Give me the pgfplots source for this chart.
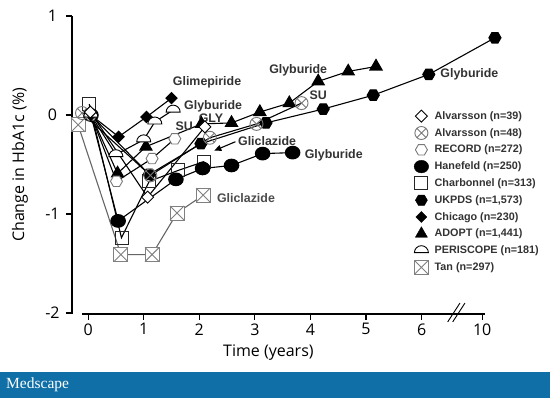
\documentclass[border=0pt]{standalone}
\usepackage{pgfplots}
\pgfplotsset{compat=1.18}
\usepackage{fontspec}
\setmainfont{Liberation Sans}
\newfontfamily\axfont{Open Sans}
\newfontfamily\medserif{Liberation Serif}
\usetikzlibrary{plotmarks,arrows.meta}
\definecolor{medblue}{RGB}{15,111,166}
\definecolor{tangray}{RGB}{128,128,128}
\definecolor{lgray}{RGB}{120,120,120}

\pgfdeclareplotmark{hexa}{%
  \pgfpathmoveto{\pgfqpoint{\pgfplotmarksize}{0pt}}%
  \pgfpathlineto{\pgfqpoint{0.5\pgfplotmarksize}{0.866\pgfplotmarksize}}%
  \pgfpathlineto{\pgfqpoint{-0.5\pgfplotmarksize}{0.866\pgfplotmarksize}}%
  \pgfpathlineto{\pgfqpoint{-\pgfplotmarksize}{0pt}}%
  \pgfpathlineto{\pgfqpoint{-0.5\pgfplotmarksize}{-0.866\pgfplotmarksize}}%
  \pgfpathlineto{\pgfqpoint{0.5\pgfplotmarksize}{-0.866\pgfplotmarksize}}%
  \pgfpathclose\pgfusepathqfillstroke}
\pgfdeclareplotmark{ell}{%
  \pgfpathellipse{\pgfpointorigin}{\pgfqpoint{1.15\pgfplotmarksize}{0pt}}{\pgfqpoint{0pt}{\pgfplotmarksize}}%
  \pgfusepathqfillstroke}
\pgfdeclareplotmark{semi}{%
  \pgfpathmoveto{\pgfqpoint{-\pgfplotmarksize}{-0.3\pgfplotmarksize}}%
  \pgfpatharc{180}{0}{\pgfplotmarksize}%
  \pgfpathclose\pgfusepathqfillstroke}
\pgfdeclareplotmark{sdiam}{%
  \pgfpathmoveto{\pgfqpoint{0pt}{\pgfplotmarksize}}%
  \pgfpathlineto{\pgfqpoint{\pgfplotmarksize}{0pt}}%
  \pgfpathlineto{\pgfqpoint{0pt}{-\pgfplotmarksize}}%
  \pgfpathlineto{\pgfqpoint{-\pgfplotmarksize}{0pt}}%
  \pgfpathclose\pgfusepathqfillstroke}
\pgfdeclareplotmark{boxx}{%
  \pgfpathrectangle{\pgfqpoint{-\pgfplotmarksize}{-\pgfplotmarksize}}{\pgfqpoint{2\pgfplotmarksize}{2\pgfplotmarksize}}%
  \pgfusepathqfillstroke
  \pgfpathmoveto{\pgfqpoint{-\pgfplotmarksize}{-\pgfplotmarksize}}\pgfpathlineto{\pgfqpoint{\pgfplotmarksize}{\pgfplotmarksize}}%
  \pgfpathmoveto{\pgfqpoint{-\pgfplotmarksize}{\pgfplotmarksize}}\pgfpathlineto{\pgfqpoint{\pgfplotmarksize}{-\pgfplotmarksize}}%
  \pgfusepathqstroke}

\pgfplotsset{
  sA39/.style={mark=sdiam, mark size=6pt, mark options={solid, fill=white, draw=black, line width=0.9pt}},
  sA48/.style={mark=otimes, mark size=6.5pt, mark options={solid, fill=white, draw=lgray, line width=0.9pt}},
  sREC/.style={mark=hexa, mark size=6pt, mark options={solid, fill=white, draw=lgray, line width=0.9pt}},
  sHAN/.style={mark=ell, mark size=6.3pt, mark options={solid, fill=black, draw=black}},
  sCHA/.style={mark=square, mark size=6.5pt, mark options={solid, fill=white, draw=black!85, line width=0.9pt}},
  sUKP/.style={mark=hexa, mark size=6pt, mark options={solid, fill=black, draw=black}},
  sCHI/.style={mark=sdiam, mark size=5.5pt, mark options={solid, fill=black, draw=black}},
  sADO/.style={mark=triangle*, mark size=7pt, mark options={solid, fill=black, draw=black}},
  sPER/.style={mark=semi, mark size=7pt, mark options={solid, fill=white, draw=black, line width=0.9pt}},
  sTAN/.style={mark=boxx, mark size=7pt, mark options={solid, fill=white, draw=tangray, line width=0.9pt}},
  ser/.style={forget plot, black, line width=1.1pt},
}

\begin{document}
\begin{tikzpicture}
\path[use as bounding box] (0pt,0pt) rectangle (550pt,398pt);
\fill[white] (0pt,0pt) rectangle (550pt,398pt);
\fill[medblue] (0pt,0pt) rectangle (550pt,26pt);
\node[anchor=west, text=white, inner sep=0pt, font=\medserif\fontsize{15.5}{15.5}\selectfont] at (6pt,13.5pt) {Medscape};
\begin{axis}[
  at={(72pt,84pt)}, anchor=south west,
  scale only axis, width=413.5pt, height=298pt,
  xmin=-0.29, xmax=7.15, ymin=-2.01, ymax=1,
  axis x line*=bottom, axis y line*=left,
  x axis line style={draw=none},
  y axis line style={line width=1.1pt},
  tick align=outside, major tick length=6pt,
  tick style={black, line width=1.1pt},
  xtick={0,1,2,3,4,5,6,7.09}, xticklabels={0,1,2,3,4,5,6,10},
  ytick={-2,-1,0,1}, yticklabels={-2,-1,0,1},
  ticklabel style={font=\axfont\fontsize{16}{16}\selectfont},
  yticklabel style={text width=20pt, align=center},
  xlabel={Time (years)}, ylabel={Change in HbA1c (\%)},
  label style={font=\axfont\fontsize{16}{16}\selectfont},
  xlabel style={at={(axis description cs:0.475,-0.131)}, anchor=center},
  ylabel style={at={(axis description cs:-0.126,0.5)}, anchor=center, rotate=0},
  clip=false,
  legend style={draw=none, fill=none, at={(0.827,0.6926)}, anchor=north west,
    inner sep=0pt, row sep=0pt, column sep=5pt,
    font=\bfseries\fontsize{10.8}{10.8}\selectfont, text=black!80,
    nodes={minimum height=16.8pt, inner sep=1pt}},
  legend cell align=left,
]
% connecting lines + markers
\addplot[ser, color=tangray!80!black, sTAN] coordinates {(-0.18,-0.1) (0.59,-1.41) (1.15,-1.41) (1.6,-0.99) (2.07,-0.81)};
\addplot[ser, sCHA] coordinates {(0.02,0.11) (0.6,-1.24) (1.1,-0.67) (1.62,-0.56) (2.09,-0.47)};
\addplot[ser, sUKP] coordinates {(0.05,0) (1.1,-0.6) (2.03,-0.29) (3.2,-0.08) (4.23,0.06) (5.13,0.2) (6.13,0.41) (7.32,0.78)};
\addplot[ser, sHAN] coordinates {(0.05,0) (0.54,-1.07) (1.58,-0.65) (2.06,-0.54) (2.58,-0.51) (3.14,-0.39) (3.68,-0.38)};
\addplot[ser, sADO] coordinates {(0.05,0) (0.53,-0.59) (1.04,-0.32) (2.04,-0.09) (2.58,-0.08) (3.09,0.03) (3.62,0.12) (4.14,0.34) (4.68,0.44) (5.18,0.49)};
\addplot[ser, sREC] coordinates {(0.05,0) (0.51,-0.67) (1.15,-0.44) (1.56,-0.24)};
\addplot[ser, sCHI] coordinates {(0.05,0) (0.55,-0.22) (1.05,-0.02) (1.5,0.17)};
\addplot[ser, sPER] coordinates {(0.05,0) (0.5,-0.4) (1.0,-0.25) (1.2,-0.07) (1.53,0.05)};
\addplot[ser, sA48] coordinates {(-0.11,0.02) (1.12,-0.61) (2.19,-0.23) (3.03,-0.09) (3.84,0.12)};
\addplot[ser, sA39] coordinates {(0.04,0.03) (1.07,-0.83) (2.1,-0.12)};

% axis line and break
\draw[black, line width=1.1pt] (axis cs:-0.11,-2.01) -- (axis cs:7.14,-2.01);
\draw[black, line width=0.9pt] (axis cs:6.47,-2.09) -- (axis cs:6.69,-1.90);
\draw[black, line width=0.9pt] (axis cs:6.56,-2.09) -- (axis cs:6.78,-1.90);

% annotations
\begin{scope}[every node/.style={font=\bfseries\fontsize{12.4}{12.4}\selectfont, text=black!80, inner sep=0pt}]
\node at (axis cs:2.14,0.333) {Glimepiride};
\node at (axis cs:2.25,0.09) {Glyburide};
\node at (axis cs:1.73,-0.11) {SU};
\node at (axis cs:2.21,-0.03) {GLY};
\node at (axis cs:3.22,-0.26) {Gliclazide};
\node at (axis cs:3.78,0.448) {Glyburide};
\node at (axis cs:4.14,0.195) {SU};
\node at (axis cs:6.86,0.414) {Glyburide};
\node at (axis cs:4.42,-0.404) {Glyburide};
\node[text=black!70] at (axis cs:2.84,-0.84) {Gliclazide};
\end{scope}
\draw[black, line width=1.1pt, -{Triangle[length=7pt,width=6pt]}] (axis cs:2.65,-0.27) -- (axis cs:2.27,-0.36);

% legend
\addlegendimage{only marks, sA39}\addlegendentry{Alvarsson (n=39)}
\addlegendimage{only marks, sA48}\addlegendentry{Alvarsson (n=48)}
\addlegendimage{only marks, sREC}\addlegendentry{RECORD (n=272)}
\addlegendimage{only marks, sHAN}\addlegendentry{Hanefeld (n=250)}
\addlegendimage{only marks, sCHA}\addlegendentry{Charbonnel (n=313)}
\addlegendimage{only marks, sUKP}\addlegendentry{UKPDS (n=1,573)}
\addlegendimage{only marks, sCHI}\addlegendentry{Chicago (n=230)}
\addlegendimage{only marks, sADO}\addlegendentry{ADOPT (n=1,441)}
\addlegendimage{only marks, sPER}\addlegendentry{PERISCOPE (n=181)}
\addlegendimage{only marks, sTAN}\addlegendentry{Tan (n=297)}
\end{axis}
\end{tikzpicture}
\end{document}
